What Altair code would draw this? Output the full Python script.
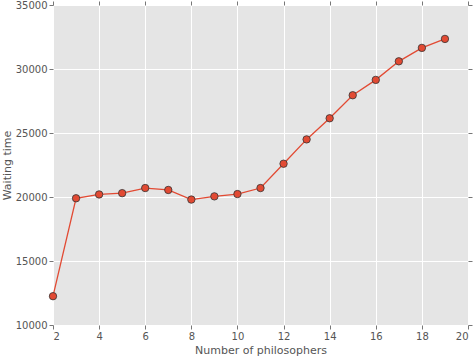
import altair as alt
import pandas as pd

philosophers = [2, 3, 4, 5, 6, 7, 8, 9, 10, 11, 12, 13, 14, 15, 16, 17, 18, 19]
waiting_time = [12250, 19900, 20200, 20300, 20700, 20550, 19800, 20050, 20230,
                20700, 22600, 24500, 26150, 27950, 29150, 30600, 31650, 32350]

df = pd.DataFrame({"n": philosophers, "w": waiting_time})

FONT = "DejaVu Sans"
xscale = alt.Scale(domain=[2, 20], nice=False, zero=False)
yscale = alt.Scale(domain=[10000, 35000], nice=False, zero=False)

base = alt.Chart(df)

line = base.mark_line(color="#E24A33", strokeWidth=1.3).encode(
    x=alt.X("n:Q", scale=xscale,
            axis=alt.Axis(title="Number of philosophers", values=list(range(2, 21, 2)),
                          format="d", grid=True, gridColor="white", gridWidth=1,
                          tickColor="#777777", tickSize=4, domain=False,
                          labelColor="#555555", labelFontSize=10, labelFont=FONT,
                          titleColor="#555555", titleFontSize=11, titleFont=FONT,
                          titleFontWeight="normal", labelPadding=2, titlePadding=3)),
    y=alt.Y("w:Q", scale=yscale,
            axis=alt.Axis(title="Waiting time", values=list(range(10000, 35001, 5000)),
                          format="d", grid=True, gridColor="white", gridWidth=1,
                          tickColor="#777777", tickSize=4, domain=False,
                          labelColor="#555555", labelFontSize=10, labelFont=FONT,
                          titleColor="#555555", titleFontSize=11, titleFont=FONT,
                          titleFontWeight="normal", labelPadding=2, titlePadding=3)),
)

points = base.mark_point(filled=True, fill="#E24A33", stroke="#333333",
                         strokeWidth=0.8, size=55, opacity=1).encode(
    x=alt.X("n:Q", scale=xscale, axis=alt.Axis(orient="top", labels=False, title=None,
                                                  grid=False, domain=False, tickColor="#777777",
                                                  tickSize=4, values=list(range(2, 21, 2)))),
    y=alt.Y("w:Q", scale=yscale, axis=alt.Axis(orient="right", labels=False, title=None,
                                                  grid=False, domain=False, tickColor="#777777",
                                                  tickSize=4, values=list(range(10000, 35001, 5000)))),
)

chart = alt.layer(line, points).resolve_axis(x="independent", y="independent").properties(
    width=415, height=320,
    autosize=alt.AutoSizeParams(type="none"),
    padding={"left": 53, "top": 5, "right": 6, "bottom": 33},
    background="white",
).configure_view(fill="#E5E5E5", stroke=None)

chart.save("out.html", embed_options={"renderer": "svg", "actions": False})
